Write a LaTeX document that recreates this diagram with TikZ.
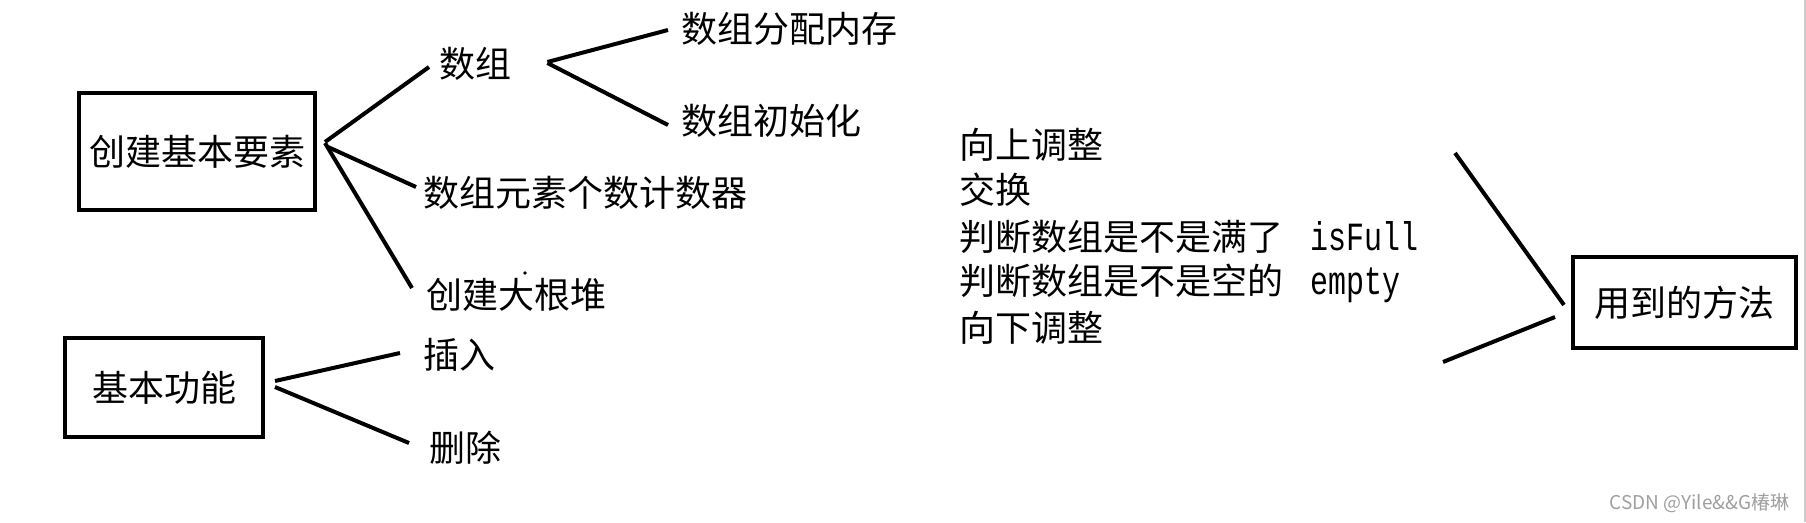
\documentclass[tikz,border=0pt]{standalone}
\usepackage{fontspec}
\setmainfont{Noto Sans CJK SC}
\newfontfamily\monofont[FakeStretch=0.75]{Liberation Mono}
\usetikzlibrary{positioning}
\tikzset{
  bigfont/.style={font=\fontsize{36pt}{46pt}\selectfont},
  mybox/.style={bigfont,draw=black,line width=4pt,inner sep=0pt,align=center},
  mytext/.style={bigfont,anchor=west,inner sep=0pt},
  myline/.style={line width=4pt}
}

\begin{document}
\begin{tikzpicture}[x=1pt,y=-1pt]
\useasboundingbox (0,0) rectangle (1806,522);

\node[mybox,minimum width=236pt,minimum height=117pt] (box1) at (197,151.5) {创建基本要素};
\node[mybox,minimum width=198pt,minimum height=99pt] (box2) at (164,387.5) {基本功能};
\node[mybox,minimum width=223pt,minimum height=91pt] (box3) at (1684.5,302.5) {用到的方法};

\node[mytext] (shuzu) at (439,64) {数组};
\node[mytext] (fenpei) at (681,29) {数组分配内存};
\node[mytext] (chushi) at (681,121) {数组初始化};
\node[mytext] (jishu) at (423,193) {数组元素个数计数器};
\node[mytext] (dagen) at (426,295) {创建大根堆};
\node[mytext] (charu) at (423,355) {插入};
\node[mytext] (shanchu) at (429,448) {删除};

\node[mytext] (m1) at (959,145) {向上调整};
\node[mytext] (m2) at (959,190) {交换};
\node[mytext] (m3) at (959,237) {判断数组是不是满了\hspace{27pt}{\fontsize{40pt}{46pt}\monofont isFull}};
\node[mytext] (m4) at (959,283) {判断数组是不是空的\hspace{27pt}{\fontsize{40pt}{46pt}\monofont empty}};
\node[mytext] (m5) at (959,328) {向下调整};

\begin{scope}[myline]
\coordinate(s1) at([xshift=8pt,yshift=9.5pt]box1.east);
\coordinate(e1) at([xshift=-10pt,yshift=-3pt]shuzu.west);
\coordinate(s2) at([xshift=11pt,yshift=4.5pt]box1.east);
\coordinate(e2) at([xshift=-7pt,yshift=6pt]jishu.west);
\coordinate(s3) at([xshift=8pt,yshift=8.5pt]box1.east);
\coordinate(e3) at([xshift=-14pt,yshift=7pt]dagen.west);

\draw (s1) -- (e1);
\draw (s2) -- (e2);
\draw (s3) -- (e3);
\end{scope}

\begin{scope}[myline]
\coordinate(s4) at([xshift=36pt,yshift=2pt]shuzu.east);
\coordinate(e4) at([xshift=-13pt,yshift=-1pt]fenpei.west);
\coordinate(s5) at([xshift=36pt,yshift=1pt]shuzu.east);
\coordinate(e5) at([xshift=-13pt,yshift=-4pt]chushi.west);

\draw (s4) -- (e4);
\draw (s5) -- (e5);
\end{scope}

\begin{scope}[myline]
\coordinate(s6) at([xshift=10pt,yshift=6.5pt]box2.east);
\coordinate(e6) at([xshift=-23pt,yshift=2pt]charu.west);
\coordinate(s7) at([xshift=10pt,yshift=0.5pt]box2.east);
\coordinate(e7) at([xshift=-20pt,yshift=5pt]shanchu.west);

\draw (s6) -- (e6);
\draw (s7) -- (e7);
\end{scope}

\begin{scope}[myline]
\coordinate(s8) at([xshift=-116pt,yshift=149.5pt]box3.west);
\coordinate(e8) at([xshift=-7pt,yshift=-2.5pt]box3.west);
\coordinate(s9) at([xshift=-128pt,yshift=-59.5pt]box3.west);
\coordinate(e9) at([xshift=-16pt,yshift=-14.5pt]box3.west);

\draw (s8) -- (e8);
\draw (s9) -- (e9);
\end{scope}

\fill (525,273) circle (1.8pt);
\draw[gray!40,line width=1.5pt] (1805,0) -- (1805,522);
\node[anchor=east,inner sep=0pt,text=gray!75,font=\fontsize{19pt}{22pt}\selectfont] (mark) at (1790,503) {CSDN @Yile\&\&G椿琳};

\end{tikzpicture}
\end{document}
